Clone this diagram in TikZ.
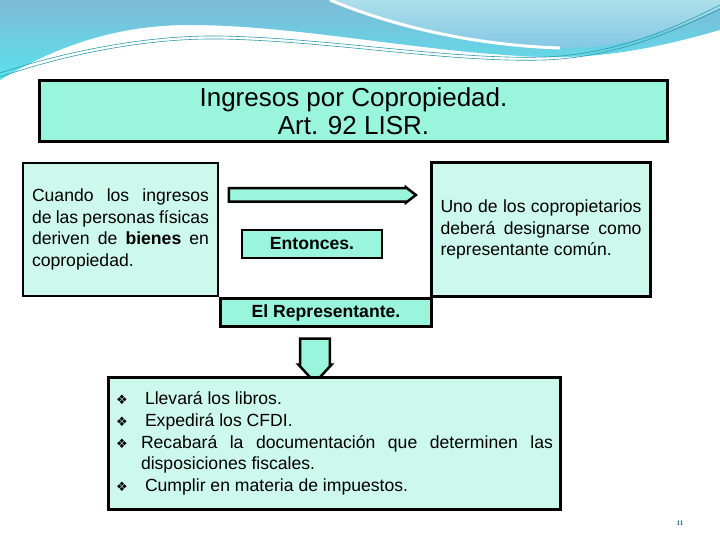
\documentclass[tikz,border=0pt]{standalone}
\usepackage{fontspec}
\setmainfont{Liberation Sans}
\newfontfamily\symfont{DejaVu Sans}
\newfontfamily\numfont{Liberation Serif}
\usetikzlibrary{positioning,shapes.arrows}
\definecolor{mint}{HTML}{99F5DC}
\definecolor{palemint}{HTML}{CCF9EC}
\definecolor{skyblue}{HTML}{7DBBD6}
\definecolor{aqua}{HTML}{5BE1EE}
\definecolor{paleaqua}{HTML}{ABDFEA}
\definecolor{midaqua}{HTML}{84C8E5}
\definecolor{waveteal}{HTML}{2A9BAA}
\definecolor{numteal}{HTML}{1F6F80}
\newcommand{\bul}[1]{\makebox[#1][l]{\symfont\fontsize{13}{13}\selectfont ❖}}

\begin{document}
\begin{tikzpicture}[x=1pt,y=-1pt,inner sep=0pt,
  boxed/.style={draw=black,line width=2.5pt,fill=palemint},
  heading/.style={draw=black,line width=3pt,fill=mint,align=center,font=\fontsize{26}{27.5}\selectfont},
  tag/.style={draw=black,line width=2.5pt,fill=mint,font=\bfseries\fontsize{17.6}{21.5}\selectfont},
  body/.style={font=\fontsize{17.6}{21.7}\selectfont,align=justify},
  blockarrow/.style={single arrow,draw=black,line width=2.5pt,fill=mint,single arrow head extend=1pt},
  waveline/.style={draw=waveteal,line width=0.6pt}]
\useasboundingbox (0,0) rectangle (720,540);
\fill[white] (0,0) rectangle (720,540);
% top wave
\shade[top color=skyblue,bottom color=aqua] (0,0) -- (720,0) -- (720,30) .. controls (650,50) and (600,58) .. (545,57) .. controls (430,54) and (300,25) .. (190,25) .. controls (110,25) and (50,50) .. (0,80) -- cycle;
\shade[top color=paleaqua,bottom color=midaqua] (330,0) .. controls (390,25) and (470,45) .. (560,48) .. controls (640,48) and (690,22) .. (720,8) -- (720,0) -- cycle;
\draw[white,line width=3pt] (330,0) .. controls (390,25) and (470,45) .. (560,48);
\draw[waveline] (0,73) .. controls (70,50) and (150,35) .. (220,36) .. controls (330,38) and (450,60) .. (545,57) .. controls (620,54) and (680,25) .. (720,5);
\draw[waveline] (0,77) .. controls (70,53) and (150,38) .. (220,39) .. controls (330,41) and (450,63) .. (545,60) .. controls (620,57) and (680,28) .. (720,9);

\node[heading,minimum width=628pt,minimum height=61pt] (title) at (353.5,111) {Ingresos por Copropiedad.\\Art. 92 LISR.};
\node[boxed,body,minimum width=195pt,minimum height=133pt,text width=177pt] (cuando) at (120.5,229.5) {Cuando los ingresos de las personas físicas deriven de \textbf{bienes} en copropiedad.};
\node[boxed,body,minimum width=219pt,minimum height=134pt,text width=201pt] (uno) [right=211pt of cuando] {Uno de los copropietarios deberá designarse como representante común.};
\node[tag,minimum width=140pt,minimum height=28pt] (entonces) at (312,244) {Entonces.};
\node[tag,anchor=north west,minimum width=211pt,minimum height=28pt] (rep) at (cuando.south east) {El Representante.};
\node[blockarrow,inner sep=5.5pt,minimum height=187pt,minimum width=15pt,single arrow tip angle=75] (flechaR) at (318,195) {};
\node[blockarrow,rotate=-90,inner sep=8.5pt,minimum height=44pt,minimum width=33pt,single arrow tip angle=85] (flechaD) at (315,352.5) {};
\node[boxed,body,minimum width=452pt,minimum height=132pt,text width=437pt] (tareas) at (334.5,443.5) {%
\hyphenpenalty=10000\exhyphenpenalty=10000
\hangindent=25pt\hangafter=1\noindent\bul{29pt}Llevará los libros.\par
\hangindent=25pt\hangafter=1\noindent\bul{29pt}Expedirá los CFDI.\par
\hangindent=25pt\hangafter=1\noindent\bul{25pt}Recabará la documentación que determinen las\linebreak disposiciones fiscales.\par
\hangindent=25pt\hangafter=1\noindent\bul{29pt}Cumplir en materia de impuestos.};
\node[font=\numfont\bfseries\fontsize{7}{7}\selectfont,text=numteal] (pagina) at (680,523) {11};
\end{tikzpicture}
\end{document}
